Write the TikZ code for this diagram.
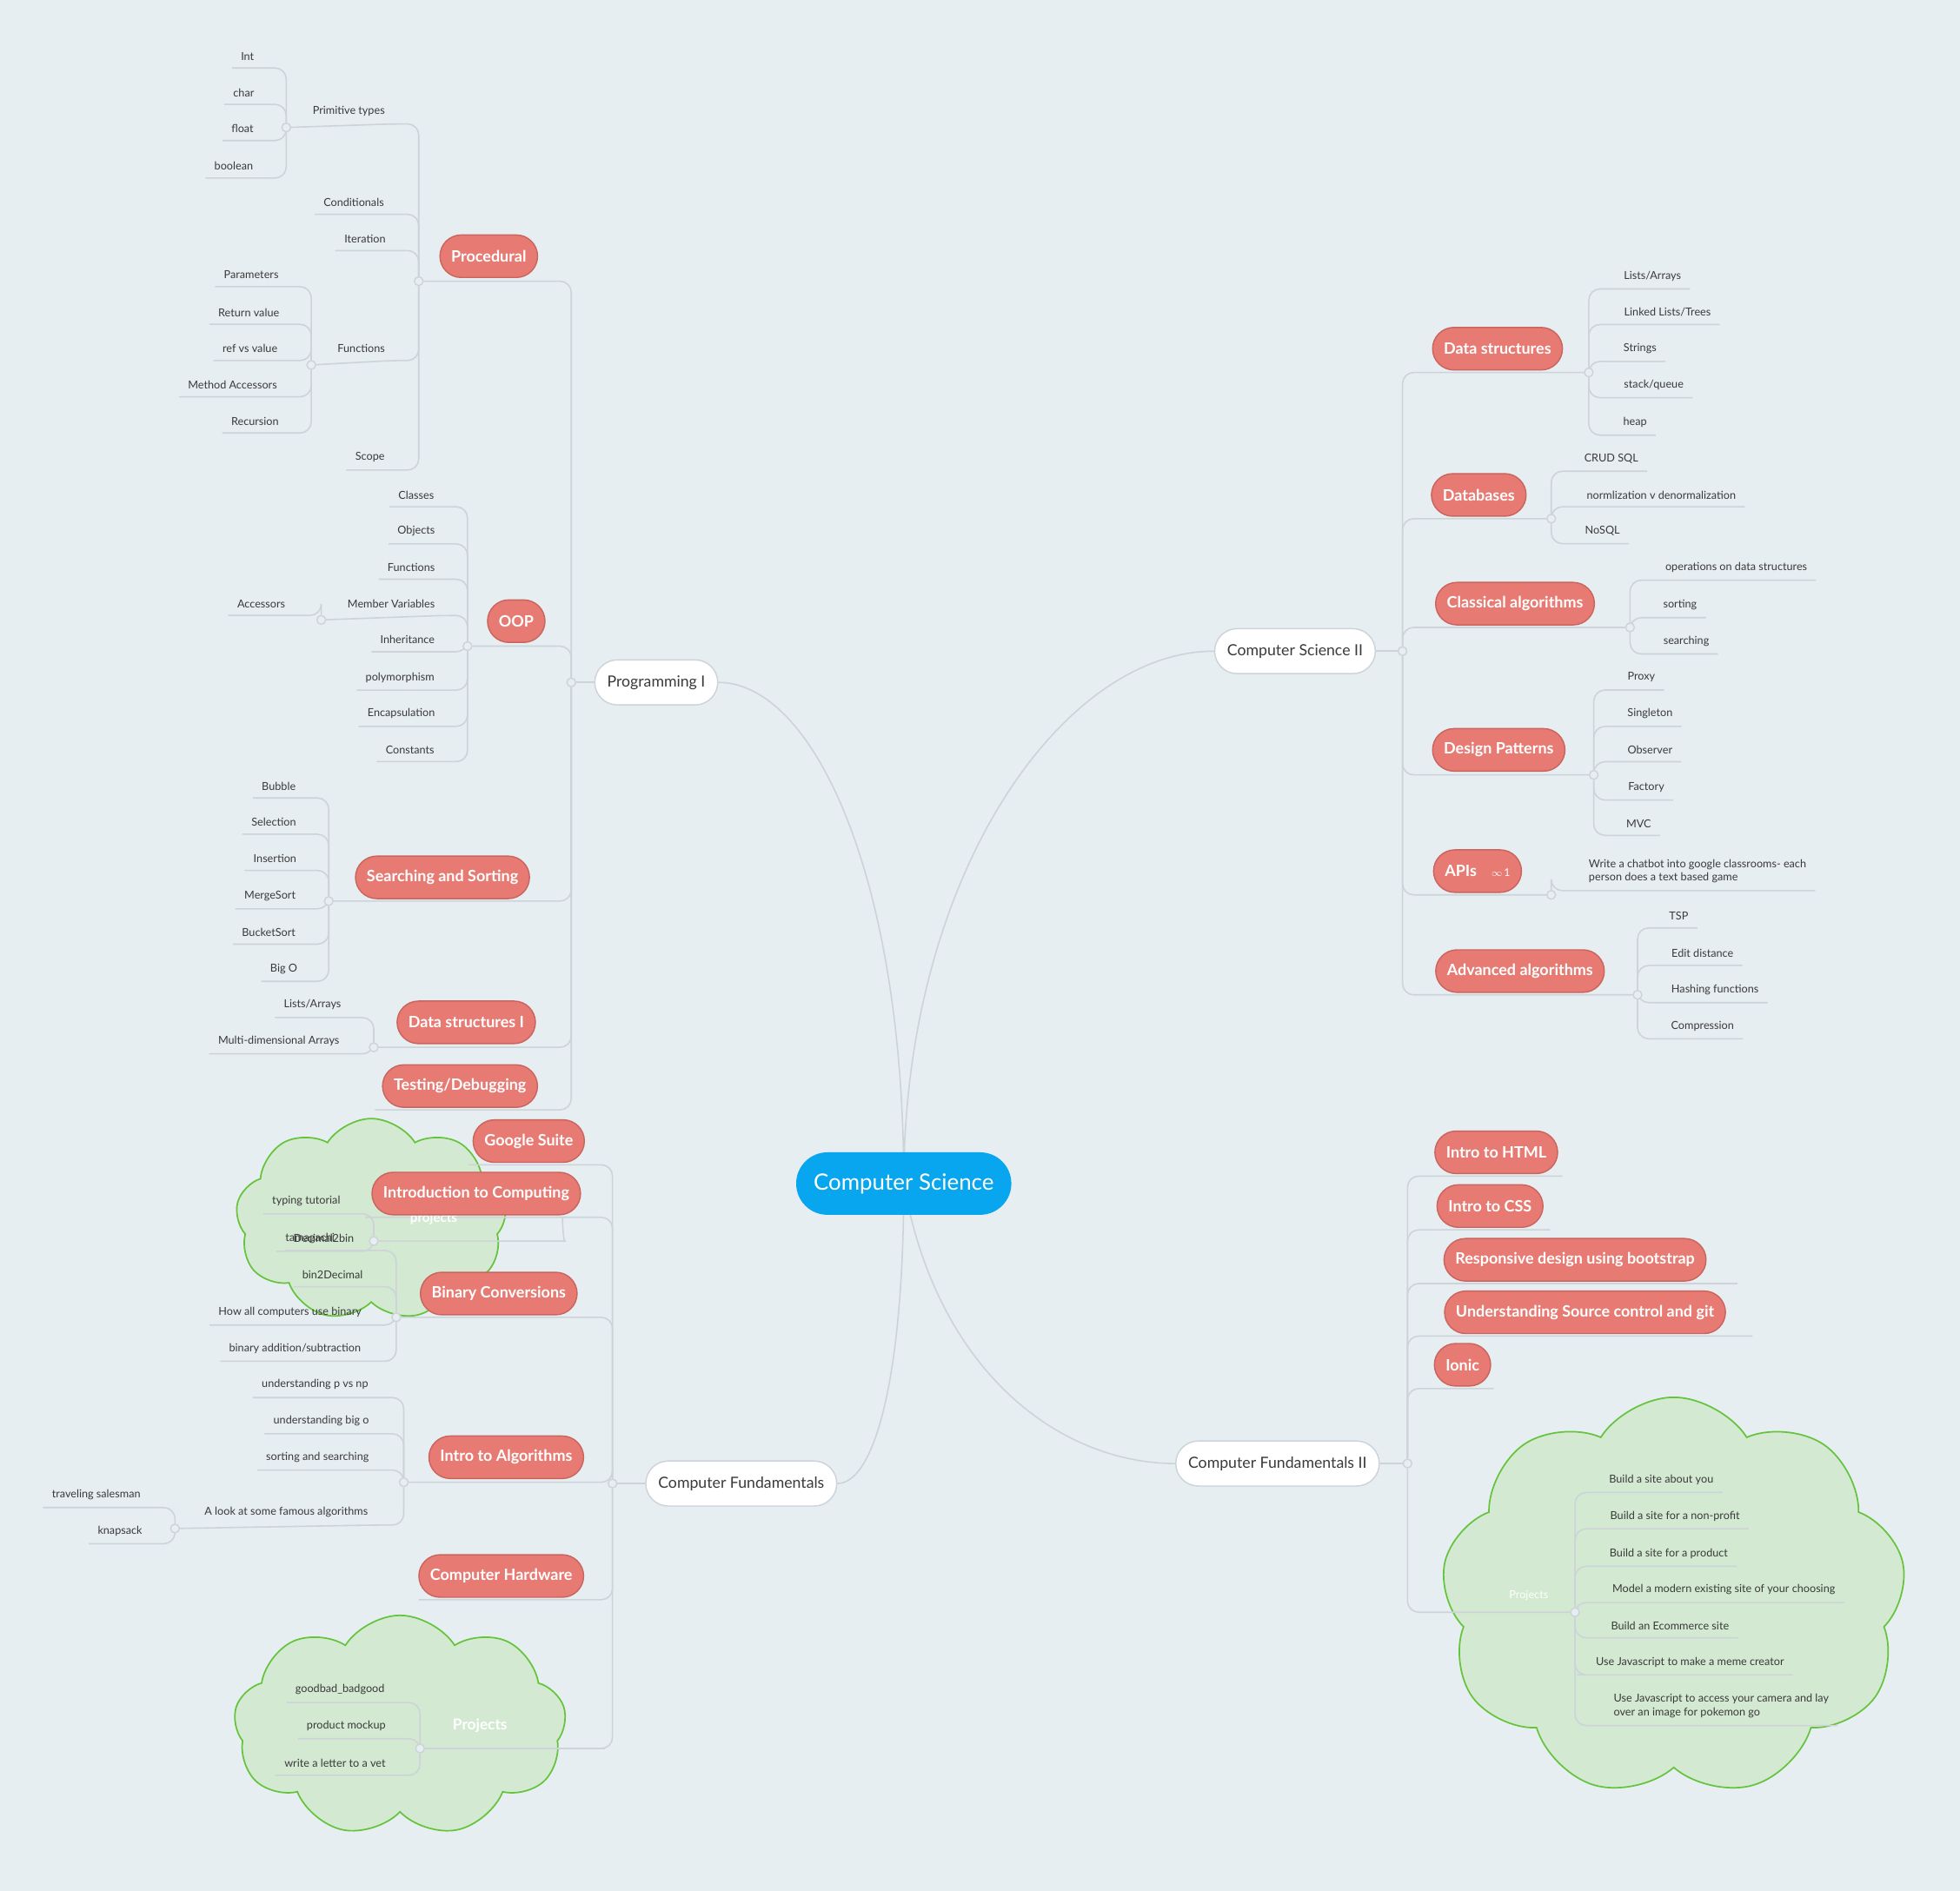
\documentclass[tikz,border=0pt]{standalone}
\usepackage{fontspec}
\setmainfont{Lato}
\usetikzlibrary{shapes.symbols,backgrounds}
\definecolor{bgc}{HTML}{E6EEF2}
\definecolor{linec}{HTML}{CDD3D8}
\definecolor{txt}{HTML}{3A3A3A}
\definecolor{pillf}{HTML}{E77B73}
\definecolor{pilld}{HTML}{C9655E}
\definecolor{blu}{HTML}{08A6EE}
\definecolor{cloudf}{HTML}{D3E9D2}
\definecolor{cloudd}{HTML}{66C33C}
\pgfdeclarelayer{cloudl}
\pgfsetlayers{cloudl,background,main}
\tikzset{
 leaf/.style={font=\fontsize{8.8}{10.8}\selectfont, text=txt, inner xsep=1pt, inner ysep=6pt, align=left},
 conn/.style={draw=linec, line width=1.1pt, rounded corners=9pt},
 pill/.style={rounded corners=17pt, fill=pillf, draw=pilld, line width=1pt, text=white, font=\fontsize{12.5}{14}\selectfont\bfseries, inner xsep=9pt, minimum height=34pt},
 wpill/.style={rounded corners=18pt, fill=white, draw=linec, line width=1pt, text=txt, font=\fontsize{12.3}{14}\selectfont, inner xsep=10pt, minimum height=36pt},
 hubc/.style={circle, minimum size=7pt, inner sep=0pt, fill=bgc, draw=linec, line width=1pt},
 cloudsty/.style={cloud, cloud puffs=9, cloud puff arc=115, fill=cloudf, draw=cloudd, line width=1.2pt, inner sep=0pt},
}
\newcommand\lfL[4]{\node[leaf] (#1) at (#2) {#3};
 \begin{pgfonlayer}{background}\draw[conn] (#4) |- ([xshift=5pt]#1.south east) -- ([xshift=-6pt]#1.south west);\end{pgfonlayer}}
\newcommand\lfR[4]{\node[leaf] (#1) at (#2) {#3};
 \begin{pgfonlayer}{background}\draw[conn] (#4) |- ([xshift=-5pt]#1.south west) -- ([xshift=6pt]#1.south east);\end{pgfonlayer}}
\newcommand\cn[2]{\begin{pgfonlayer}{background}\draw[conn] (#1) |- (#2);\end{pgfonlayer}}
\begin{document}
\begin{tikzpicture}[x=1pt,y=-1pt]
\path[use as bounding box] (0,0) rectangle (1568,1513);
\begin{pgfonlayer}{cloudl}
\fill[bgc] (0,0) rectangle (1568,1513);
\node[cloudsty, minimum width=217pt, minimum height=162pt, aspect=1.34] (cl1) at (297,976) {};
\node[cloudsty, minimum width=266pt, minimum height=177pt, aspect=1.5] (cl2) at (320,1381) {};
\node[cloudsty, minimum width=372pt, minimum height=320pt, aspect=1.16] (cl3) at (1339,1278) {};
\end{pgfonlayer}

% central
\node[rounded corners=25pt, fill=blu, text=white, font=\fontsize{18}{20}\selectfont, minimum height=50pt, inner xsep=14pt] (cs) at (723,947) {Computer Science};
\node[wpill] (p1) at (525,546) {Programming I};
\node[wpill] (cs2) at (1036,521) {Computer Science II};
\node[wpill] (cf) at (593,1187) {Computer Fundamentals};
\node[wpill] (cf2) at (1022,1171) {Computer Fundamentals II};
\begin{pgfonlayer}{background}
\draw[conn] (cs.center) .. controls (723,700) and (650,546) .. (p1.east);
\draw[conn] (cs.center) .. controls (723,700) and (850,521) .. (cs2.west);
\draw[conn] (cs.center) .. controls (723,1100) and (700,1187) .. (cf.east);
\draw[conn] (cs.center) .. controls (750,1100) and (850,1171) .. (cf2.west);
\end{pgfonlayer}

% ===== Programming I
\node[hubc] (h1) at (457,546) {};
\begin{pgfonlayer}{background}\draw[conn] (p1.west) -- (h1);\end{pgfonlayer}
\node[pill] (proc) at (391,205) {Procedural};
\node[hubc] (hProc) at (335,225) {};
\cn{h1}{hProc}
\node[leaf] (prim) at (279,89) {Primitive types};
\begin{pgfonlayer}{background}\draw[conn] (hProc) |- ([xshift=5pt]prim.south east) -- (229,102);\end{pgfonlayer}
\node[hubc] (hPrim) at (229,102) {};
\lfL{int}{198,45}{Int}{hPrim}
\lfL{chr}{195,74}{char}{hPrim}
\lfL{flt}{194,103}{float}{hPrim}
\lfL{bool}{187,133}{boolean}{hPrim}
\lfL{cond}{283,162}{Conditionals}{hProc}
\lfL{iter}{292,191}{Iteration}{hProc}
\node[leaf] (func) at (289,279) {Functions};
\begin{pgfonlayer}{background}\draw[conn] (hProc) |- ([xshift=5pt]func.south east) -- (249,292);\end{pgfonlayer}
\node[hubc] (hFun) at (249,292) {};
\lfL{par}{201,220}{Parameters}{hFun}
\lfL{ret}{199,250}{Return value}{hFun}
\lfL{ref}{200,279}{ref vs value}{hFun}
\lfL{meth}{186,308}{Method Accessors}{hFun}
\lfL{rec}{204,337}{Recursion}{hFun}
\lfL{scope}{296,366}{Scope}{hProc}

\node[pill] (oop) at (413,497) {OOP};
\node[hubc] (hOOP) at (374,517) {};
\cn{h1}{hOOP}
\lfL{cls}{333,396}{Classes}{hOOP}
\lfL{obj}{333,425}{Objects}{hOOP}
\lfL{fn2}{329,454}{Functions}{hOOP}
\node[leaf] (mv) at (313,483) {Member Variables};
\begin{pgfonlayer}{background}\draw[conn] (hOOP) |- ([xshift=5pt]mv.south east) -- (257,496);\end{pgfonlayer}
\node[hubc] (hMV) at (257,496) {};
\lfL{acc}{209,483}{Accessors}{hMV}
\lfL{inh}{326,512}{Inheritance}{hOOP}
\lfL{poly}{320,542}{polymorphism}{hOOP}
\lfL{enc}{321,571}{Encapsulation}{hOOP}
\lfL{cons}{328,600}{Constants}{hOOP}

\node[pill] (ss) at (354,702) {Searching and Sorting};
\node[hubc] (hSS) at (263,721) {};
\cn{h1}{hSS}
\lfL{bub}{223,629}{Bubble}{hSS}
\lfL{sel}{219,658}{Selection}{hSS}
\lfL{ins}{220,687}{Insertion}{hSS}
\lfL{mer}{216,717}{MergeSort}{hSS}
\lfL{buc}{215,746}{BucketSort}{hSS}
\lfL{bigo}{227,775}{Big O}{hSS}

\node[pill] (ds1) at (373,818) {Data structures I};
\node[hubc] (hDS1) at (299,838) {};
\cn{h1}{hDS1}
\lfL{la1}{250,804}{Lists/Arrays}{hDS1}
\lfL{mda}{223,833}{Multi-dimensional Arrays}{hDS1}

\coordinate (tdE) at (300,888);
\cn{h1}{tdE}
\node[pill] (td) at (368,869) {Testing/Debugging};

% ===== Computer Fundamentals
\node[hubc] (hCF) at (490,1187) {};
\begin{pgfonlayer}{background}\draw[conn] (cf.west) -- (hCF);\end{pgfonlayer}
\coordinate (gsE) at (375,932);
\cn{hCF}{gsE}
\coordinate (icE) at (292,974);
\cn{hCF}{icE}
\coordinate (pjR) at (443,993);
\coordinate (icH) at (450,974);
\node[hubc] (hProj) at (299,993) {};
\begin{pgfonlayer}{background}\draw[conn] (hProj) -- (pjR) to[out=0,in=-90] (icH);\end{pgfonlayer}
\node[font=\fontsize{10.5}{12}\selectfont\bfseries, text=white] (proj1) at (347,975) {projects};
\lfL{typ}{245,961}{typing tutorial}{hProj}
\lfL{tam}{248,991}{tamagachi}{hProj}
\node[pill] (gs) at (423,913) {Google Suite};
\node[pill] (ic) at (381,955) {Introduction to Computing};

\node[pill] (bc) at (399,1035) {Binary Conversions};
\node[hubc] (hBC) at (317,1054) {};
\cn{hCF}{hBC}
\lfL{d2b}{259,991}{Decimal2bin}{hBC}
\lfL{b2d}{266,1020}{bin2Decimal}{hBC}
\lfL{hac}{232,1050}{How all computers use binary}{hBC}
\lfL{bas}{236,1079}{binary addition/subtraction}{hBC}

\node[pill] (ia) at (405,1166) {Intro to Algorithms};
\node[hubc] (hIA) at (323,1186) {};
\cn{hCF}{hIA}
\lfL{pnp}{252,1108}{understanding p vs np}{hIA}
\lfL{ubo}{257,1137}{understanding big o}{hIA}
\lfL{sas}{254,1166}{sorting and searching}{hIA}
\node[leaf] (fam) at (229,1210) {A look at some famous algorithms};
\begin{pgfonlayer}{background}\draw[conn] (hIA) |- ([xshift=5pt]fam.south east) -- (140,1223);\end{pgfonlayer}
\node[hubc] (hFam) at (140,1223) {};
\lfL{tsal}{77,1196}{traveling salesman}{hFam}
\lfL{knap}{96,1225}{knapsack}{hFam}

\coordinate (chE) at (335,1280);
\cn{hCF}{chE}
\node[pill] (ch) at (401,1261) {Computer Hardware};

\coordinate (pr2E) at (420,1399);
\begin{pgfonlayer}{background}\draw[conn] (hCF) |- (475,1399) -- (pr2E);\end{pgfonlayer}
\node[hubc] (hPr2) at (336,1399) {};
\begin{pgfonlayer}{background}\draw[conn] (hPr2) -- (pr2E);\end{pgfonlayer}
\node[font=\fontsize{12}{14}\selectfont\bfseries, text=white] (proj2) at (384,1381) {Projects};
\lfL{gbb}{272,1352}{goodbad\_badgood}{hPr2}
\lfL{pm}{277,1381}{product mockup}{hPr2}
\lfL{wlv}{268,1411}{write a letter to a vet}{hPr2}

% ===== Computer Science II
\node[hubc] (hCS2) at (1122,521) {};
\begin{pgfonlayer}{background}\draw[conn] (cs2.east) -- (hCS2);\end{pgfonlayer}
\node[pill] (dss) at (1198,279) {Data structures};
\node[hubc] (hDS) at (1271,298) {};
\cn{hCS2}{hDS}
\lfR{a1}{1322,221}{Lists/Arrays}{hDS}
\lfR{a2}{1334,250}{Linked Lists/Trees}{hDS}
\lfR{a3}{1312,279}{Strings}{hDS}
\lfR{a4}{1323,308}{stack/queue}{hDS}
\lfR{a5}{1308,338}{heap}{hDS}

\node[pill] (db) at (1183,396) {Databases};
\node[hubc] (hDB) at (1241,415) {};
\cn{hCS2}{hDB}
\lfR{b1}{1289,367}{CRUD SQL}{hDB}
\lfR{b2}{1329,396}{normlization v denormalization}{hDB}
\lfR{b3}{1282,425}{NoSQL}{hDB}

\node[pill] (ca) at (1212,483) {Classical algorithms};
\node[hubc] (hCA) at (1304,502) {};
\cn{hCS2}{hCA}
\lfR{c1}{1389,454}{operations on data structures}{hCA}
\lfR{c2}{1344,484}{sorting}{hCA}
\lfR{c3}{1349,513}{searching}{hCA}

\node[pill] (dp) at (1199,600) {Design Patterns};
\node[hubc] (hDP) at (1275,620) {};
\cn{hCS2}{hDP}
\lfR{d1}{1313,542}{Proxy}{hDP}
\lfR{d2}{1320,571}{Singleton}{hDP}
\lfR{d3}{1320,600}{Observer}{hDP}
\lfR{d4}{1317,630}{Factory}{hDP}
\lfR{d5}{1311,659}{MVC}{hDP}

\node[pill] (api) at (1182,697) {APIs\hspace{12pt}{\fontsize{8.5}{9}\selectfont\normalfont\raisebox{0.5pt}{$\infty$}\,1}};
\node[hubc] (hAPI) at (1241,716) {};
\cn{hCS2}{hAPI}
\lfR{e1}{1358,697}{Write a chatbot into google classrooms- each\\person does a text based game}{hAPI}

\node[pill] (aa) at (1216,777) {Advanced algorithms};
\node[hubc] (hAA) at (1310,796) {};
\cn{hCS2}{hAA}
\lfR{f1}{1343,733}{TSP}{hAA}
\lfR{f2}{1362,763}{Edit distance}{hAA}
\lfR{f3}{1372,792}{Hashing functions}{hAA}
\lfR{f4}{1362,821}{Compression}{hAA}

% ===== Computer Fundamentals II
\node[hubc] (hCF2) at (1126,1171) {};
\begin{pgfonlayer}{background}\draw[conn] (cf2.east) -- (hCF2);\end{pgfonlayer}
\coordinate (g1) at (1250,941);
\coordinate (g2) at (1240,984);
\coordinate (g3) at (1390,1027);
\coordinate (g4) at (1402,1069);
\coordinate (g5) at (1195,1111);
\cn{hCF2}{g1}\cn{hCF2}{g2}\cn{hCF2}{g3}\cn{hCF2}{g4}\cn{hCF2}{g5}
\node[pill] (html) at (1197,922) {Intro to HTML};
\node[pill] (css) at (1192,965) {Intro to CSS};
\node[pill] (rdb) at (1260,1008) {Responsive design using bootstrap};
\node[pill] (git) at (1268,1050) {Understanding Source control and git};
\node[pill] (ion) at (1170,1092) {Ionic};

\node[hubc] (hP3) at (1260,1290) {};
\cn{hCF2}{hP3}
\node[font=\fontsize{8.8}{10}\selectfont, text=white] (proj3) at (1223,1277) {Projects};
\lfR{k1}{1329,1184}{Build a site about you}{hP3}
\lfR{k2}{1340,1213}{Build a site for a non-profit}{hP3}
\lfR{k3}{1335,1243}{Build a site for a product}{hP3}
\lfR{k4}{1379,1272}{Model a modern existing site of your choosing}{hP3}
\lfR{k5}{1336,1301}{Build an Ecommerce site}{hP3}
\lfR{k6}{1352,1330}{Use Javascript to make a meme creator}{hP3}
\lfR{k7}{1377,1365}{Use Javascript to access your camera and lay\\over an image for pokemon go}{hP3}
\end{tikzpicture}
\end{document}
